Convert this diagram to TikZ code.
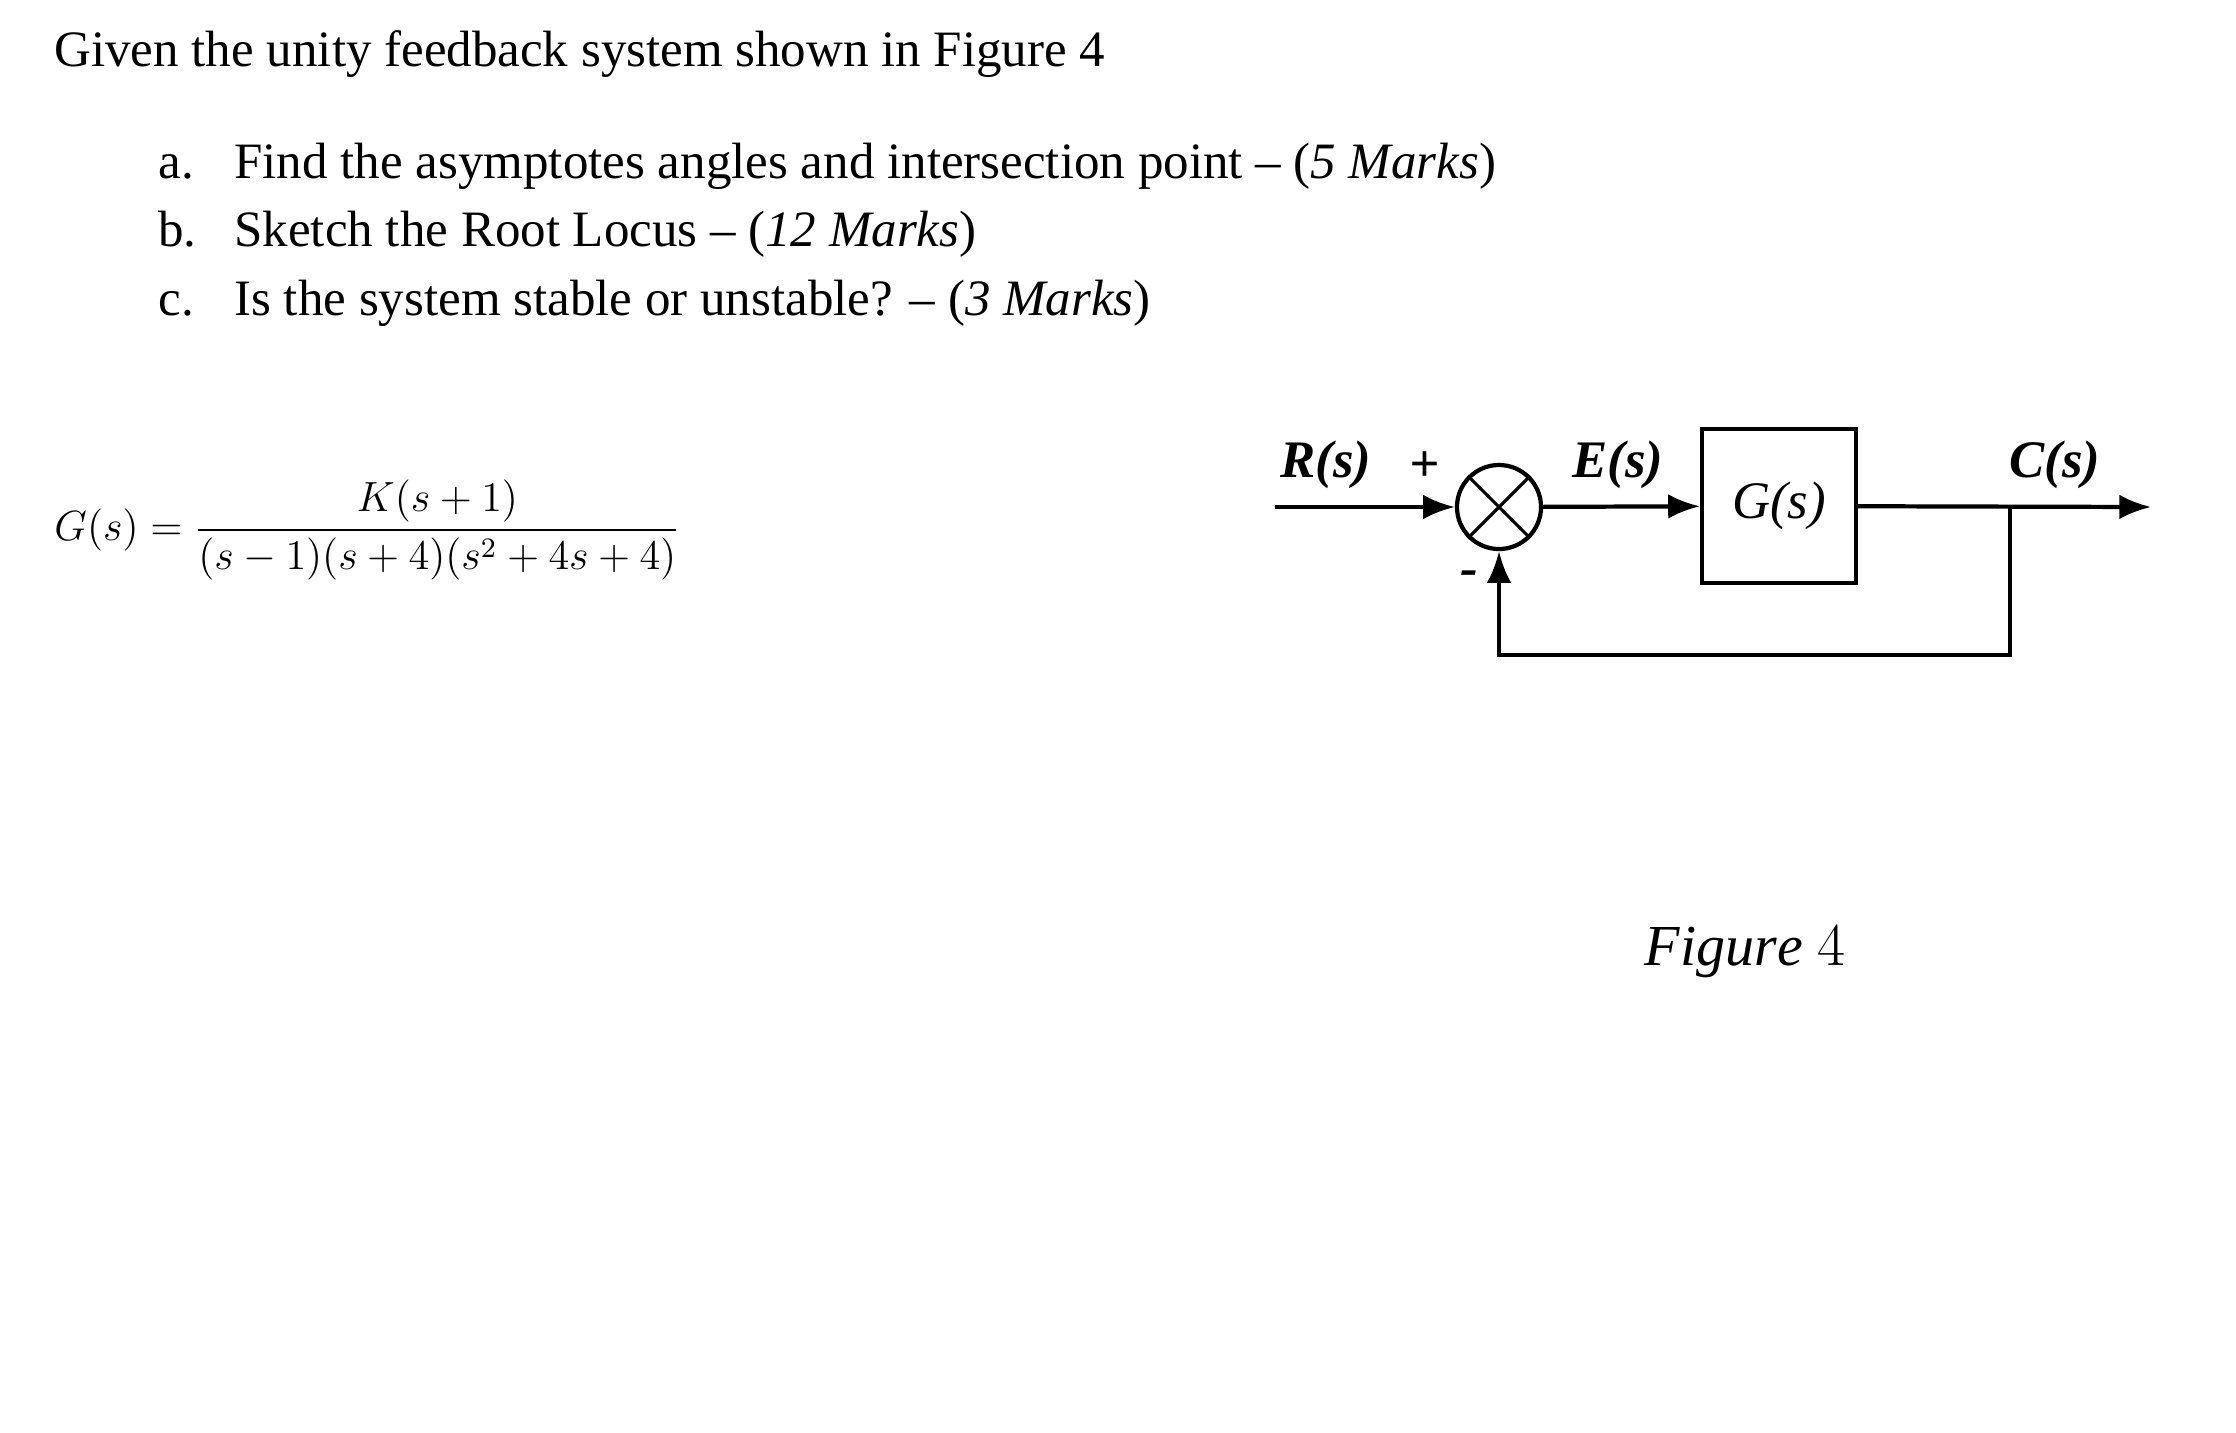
\documentclass[tikz,border=0pt]{standalone}
\usepackage{amsmath}
\usepackage{fontspec}
\setmainfont{Liberation Serif}
\usetikzlibrary{arrows.meta,positioning}
\tikzset{
  txt/.style={anchor=base west,font=\fontsize{14.5}{17}\selectfont},
  lbl/.style={font=\fontsize{15}{18}\selectfont\itshape\bfseries},
  sig/.style={-{Latex[length=9pt,width=7pt]},line width=1.2pt},
  ln/.style={line width=1.2pt}
}
\begin{document}
\begin{tikzpicture}[x=0.01cm,y=-0.01cm]
	\useasboundingbox (0,0) rectangle (2236,1432);
	
	\node[txt] (title) at (42,66) {Given the unity feedback system shown in Figure 4};
	\node[txt] (ia) at (146,178) {a.};
	\node[txt] (ta) at (222,178) {Find the asymptotes angles and intersection point -- (\textit{5 Marks})};
	\node[txt] (ib) at (146,246) {b.};
	\node[txt] (tb) at (222,246) {Sketch the Root Locus -- (\textit{12 Marks})};
	\node[txt] (ic) at (146,315) {c.};
	\node[txt] (tc) at (222,315) {Is the system stable or unstable? -- (\textit{3 Marks})};
	
	\node[anchor=west,font=\fontsize{11.5}{14}\selectfont] (eq) at (42,530)
		{$G(s)=\dfrac{K(s+1)}{(s-1)(s+4)(s^2+4s+4)}$};
	
	% block diagram
	\coordinate (in) at (1275,507);
	\node[draw,circle,ln,inner sep=0pt,minimum size=0.84cm] (sum) at (1499,507) {};
	\draw[line width=0.9pt] (sum.north west) -- (sum.south east) (sum.north east) -- (sum.south west);
	\node[draw,ln,minimum width=1.54cm,minimum height=1.54cm,font=\fontsize{15}{18}\selectfont\itshape] (G) at (1779,506) {G(s)};
	\coordinate (out) at (2151,507);
	\coordinate (br) at (2010,507);
	\coordinate (fb) at (2010,655);
	
	\draw[sig] (in) -- (sum);
	\draw[sig] (sum) -- (G);
	\draw[sig] (G) -- (out);
	\draw[sig] (br) -- (fb) -| (sum);
	
	\node[lbl] (R) at (1326,465) {R(s)};
	\node[lbl] (plus) at (1425,467) {+};
	\node[lbl] (E) at (1618,465) {E(s)};
	\node[lbl] (C) at (2055,465) {C(s)};
	\node[lbl] (minus) at (1469,578) {-};
	
	\node[font=\fontsize{16.5}{19}\selectfont] (fig) at (1745,952) {$\mathit{Figure}\ 4$};
\end{tikzpicture}
\end{document}
